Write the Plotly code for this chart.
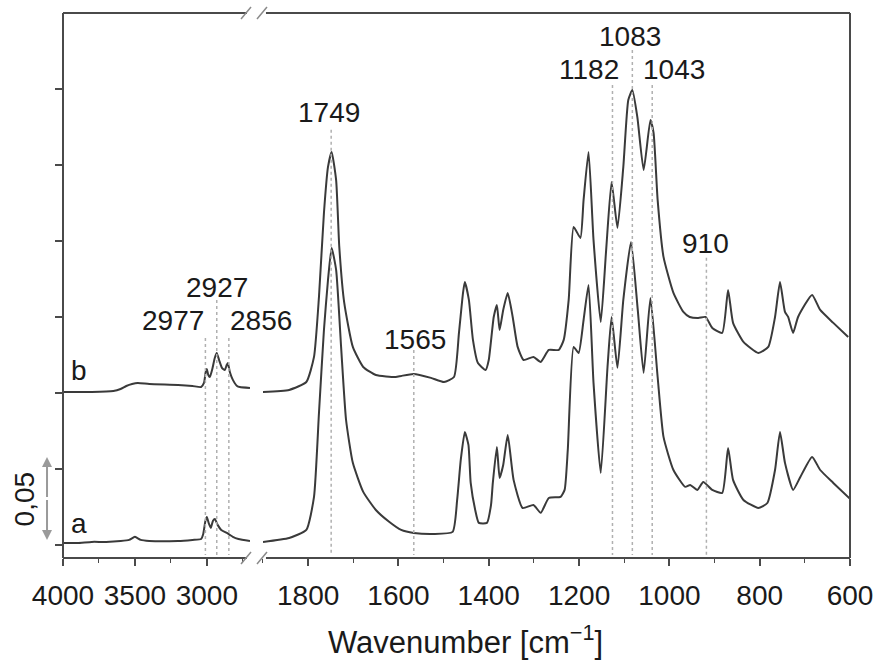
import plotly.graph_objects as go

# ---------------- data (wavenumber in cm-1, absorbance) ----------------
# high-wavenumber panel (4000-2700)
wn_hi_a = [4000, 3900, 3800, 3700, 3600, 3540, 3500, 3460, 3400, 3200, 3100, 3040, 3025, 3010,
           3000, 2985, 2972, 2958, 2944, 2925, 2900, 2861, 2840, 2819, 2780, 2700]
abs_hi_a = [.0013, .0013, .0020, .0020, .0026, .0033, .0053, .0033, .0026, .0026, .0033, .0039, .0072, .0158,
            .0184, .0138, .0112, .0158, .0171, .0132, .0099, .0079, .0066, .0053, .0039, .0026]

wn_hi_b = [4000, 3800, 3650, 3600, 3560, 3520, 3480, 3400, 3200, 3100, 3040, 3020, 3008, 3000, 2990,
           2979, 2960, 2945, 2931, 2915, 2895, 2875, 2862, 2854, 2840, 2819, 2790, 2771, 2700]
abs_hi_b = [.1007, .1007, .1013, .1026, .1046, .1059, .1066, .1059, .1053, .1046, .1039, .1066, .1138, .1158, .1118,
            .1105, .1165, .1230, .1263, .1217, .1165, .1151, .1184, .1197, .1138, .1086, .1046, .1039, .1033]

# fingerprint panel (1900-600)
wn_lo_a = [1900, 1842, 1804, 1787, 1776, 1765, 1756, 1748, 1738, 1727, 1716, 1701, 1678, 1650, 1620,
           1594, 1566, 1522, 1480, 1470, 1462, 1453, 1445, 1440, 1430, 1422, 1404, 1395, 1391, 1382,
           1376, 1368, 1358, 1345, 1325, 1301, 1285, 1267, 1241, 1232, 1225, 1212, 1201, 1190, 1179,
           1168, 1152, 1137, 1128, 1115, 1102, 1085, 1070, 1057, 1042, 1026, 1013, 991, 965, 954,
           938, 925, 905, 883, 870, 859, 836, 803, 783, 766, 755, 744, 726, 710, 684, 666, 637, 600]
abs_lo_a = [.0020, .0046, .0099, .0316, .0868, .1414, .1744, .1954, .1810, .1303, .0822, .0540, .0349, .0230, .0151,
            .0099, .0079, .0072, .0086, .0296, .0559, .0743, .0658, .0408, .0230, .0145, .0145, .0263, .0408, .0645,
            .0441, .0526, .0724, .0428, .0243, .0263, .0211, .0309, .0316, .0362, .0625, .1303, .1263, .1480, .1711,
            .1066, .0474, .1171, .1500, .1165, .1612, .1993, .1546, .1132, .1625, .1105, .0711, .0493, .0382, .0395,
            .0362, .0414, .0362, .0342, .0638, .0428, .0296, .0243, .0276, .0493, .0743, .0540, .0362, .0447, .0579,
            .0493, .0408, .0303]

wn_lo_b = [1900, 1842, 1804, 1787, 1776, 1765, 1756, 1748, 1738, 1731, 1720, 1701, 1678, 1650, 1606,
           1594, 1566, 1528, 1499, 1477, 1466, 1457, 1453, 1444, 1435, 1424, 1407, 1400, 1389, 1382,
           1376, 1368, 1358, 1347, 1336, 1323, 1301, 1285, 1267, 1245, 1234, 1223, 1212, 1197, 1190,
           1179, 1168, 1152, 1140, 1128, 1115, 1102, 1091, 1082, 1071, 1057, 1042, 1035, 1026, 1013,
           991, 969, 955, 936, 920, 905, 883, 870, 859, 836, 803, 781, 766, 755, 744, 737, 726, 715,
           684, 666, 637, 604]
abs_lo_b = [.1007, .1020, .1072, .1237, .1632, .2184, .2487, .2586, .2401, .1961, .1592, .1303, .1171, .1118, .1105,
            .1112, .1125, .1099, .1072, .1105, .1395, .1658, .1730, .1612, .1349, .1197, .1151, .1217, .1500, .1579,
            .1414, .1546, .1658, .1500, .1303, .1217, .1237, .1204, .1283, .1283, .1349, .1612, .2092, .2020, .2270,
            .2586, .2007, .1467, .1941, .2388, .2086, .2487, .2928, .2993, .2816, .2467, .2796, .2711, .2270, .1895,
            .1658, .1533, .1500, .1493, .1500, .1428, .1395, .1678, .1461, .1336, .1263, .1303, .1500, .1730, .1533,
            .1500, .1395, .1500, .1645, .1546, .1461, .1368]

# band annotations
hi_labels = ["2977", "2927", "2856"]
hi_marks = [3010, 2931, 2847]
hi_label_y = [0.1474, 0.1691, 0.1474]
hi_line_top = [0.1362, 0.1612, 0.1362]
hi_shift = [-32, 0, 32]

lo_labels = ["1749", "1565", "1182", "1083", "1043", "910"]
lo_marks = [1749, 1566, 1126, 1082, 1038, 918]
lo_label_y = [0.2843, 0.1355, 0.3126, 0.3343, 0.3126, 0.1981]
lo_line_top = [0.2731, 0.1283, 0.3027, 0.3257, 0.3027, 0.1889]
lo_shift = [-2, 1, -23, -2, 22, -1]

hi_ticks = [4000, 3500, 3000]
lo_ticks = [1800, 1600, 1400, 1200, 1000, 800, 600]
y_ticks = [0, 0.05, 0.10, 0.15, 0.20, 0.25, 0.30]

# ---------------- figure ----------------
FONT = "Liberation Sans, Arial, sans-serif"
CURVE = "#3a3a3a"
DOT = "#b0b0b0"
TXT = "#1a1a1a"
fig = go.Figure()

line_style = dict(color=CURVE, width=2, shape="spline", smoothing=0.5)
fig.add_trace(go.Scatter(x=wn_hi_a, y=abs_hi_a, mode="lines", line=line_style, xaxis="x", yaxis="y"))
fig.add_trace(go.Scatter(x=wn_hi_b, y=abs_hi_b, mode="lines", line=line_style, xaxis="x", yaxis="y"))
fig.add_trace(go.Scatter(x=wn_lo_a, y=abs_lo_a, mode="lines", line=line_style, xaxis="x2", yaxis="y"))
fig.add_trace(go.Scatter(x=wn_lo_b, y=abs_lo_b, mode="lines", line=line_style, xaxis="x2", yaxis="y"))

Y_BOTTOM = -0.0066
annotations = []
for lab, w, ly, top, sh in zip(hi_labels, hi_marks, hi_label_y, hi_line_top, hi_shift):
    fig.add_trace(go.Scatter(x=[w, w], y=[top, Y_BOTTOM], mode="lines",
                             line=dict(color=DOT, width=1.5, dash="dot"), xaxis="x", yaxis="y"))
    annotations.append(dict(x=w, y=ly, xref="x", yref="y", text=lab, showarrow=False, xshift=sh,
                            xanchor="center", yanchor="middle",
                            font=dict(family=FONT, size=28, color=TXT)))
for lab, w, ly, top, sh in zip(lo_labels, lo_marks, lo_label_y, lo_line_top, lo_shift):
    fig.add_trace(go.Scatter(x=[w, w], y=[top, Y_BOTTOM], mode="lines",
                             line=dict(color=DOT, width=1.5, dash="dot"), xaxis="x2", yaxis="y"))
    annotations.append(dict(x=w, y=ly, xref="x2", yref="y", text=lab, showarrow=False, xshift=sh,
                            xanchor="center", yanchor="middle",
                            font=dict(family=FONT, size=28, color=TXT)))

# curve labels
annotations.append(dict(x=3889, y=0.1145, xref="x", yref="y", text="b", showarrow=False,
                        xanchor="center", yanchor="middle", font=dict(family=FONT, size=28, color=TXT)))
annotations.append(dict(x=3889, y=0.0138, xref="x", yref="y", text="a", showarrow=False,
                        xanchor="center", yanchor="middle", font=dict(family=FONT, size=28, color=TXT)))
# scale bar
annotations.append(dict(x=-0.0496, y=0.0306, xref="paper", yref="y", text="0,05", textangle=-90,
                        xanchor="center", yanchor="middle",
                        showarrow=False, font=dict(family=FONT, size=28, color=TXT)))
annotations.append(dict(x=-0.0203, y=0.0579, xref="paper", yref="y", ax=0, ay=0.0306,
                        axref="pixel", ayref="y", text="", showarrow=True, arrowhead=2, arrowsize=1,
                        arrowwidth=2, arrowcolor="#9a9a9a"))
annotations.append(dict(x=-0.0203, y=0.0033, xref="paper", yref="y", ax=0, ay=0.0306,
                        axref="pixel", ayref="y", text="", showarrow=True, arrowhead=2, arrowsize=1,
                        arrowwidth=2, arrowcolor="#9a9a9a"))
# axis title
annotations.append(dict(x=0.512, y=-0.150, xref="paper", yref="paper", text="Wavenumber [cm<sup>\u22121</sup>]",
                        xanchor="center", yanchor="middle",
                        showarrow=False, font=dict(family=FONT, size=31, color=TXT)))

# frame with axis-break marks
FR = "#4a4a4a"
shapes = []
g0, g1 = 0.2338, 0.2579
for yy in (0, 1):
    shapes.append(dict(type="line", xref="paper", yref="paper", x0=0, x1=g0, y0=yy, y1=yy,
                       line=dict(color=FR, width=2)))
    shapes.append(dict(type="line", xref="paper", yref="paper", x0=g1, x1=1, y0=yy, y1=yy,
                       line=dict(color=FR, width=2)))
    for xa, xb in ((0.2262, 0.2389), (0.2465, 0.2592)):
        shapes.append(dict(type="line", xref="paper", yref="paper", x0=xa, x1=xb,
                           y0=yy - 0.011, y1=yy + 0.011, line=dict(color="#8a8a8a", width=1.5)))
shapes.append(dict(type="line", xref="paper", yref="paper", x0=0, x1=0, y0=0, y1=1, line=dict(color=FR, width=2)))
shapes.append(dict(type="line", xref="paper", yref="paper", x0=1, x1=1, y0=0, y1=1, line=dict(color=FR, width=2)))

axis_common = dict(showgrid=False, zeroline=False, showline=False, ticks="outside", ticklen=7,
                   tickwidth=1.5, tickcolor=FR, tickfont=dict(family=FONT, size=28, color=TXT),
                   ticklabelstandoff=5, ticklabeloverflow="allow", automargin=False, anchor="y")

fig.update_layout(
    width=873, height=671,
    margin=dict(l=63, r=23, t=13, b=113, autoexpand=False),
    paper_bgcolor="white", plot_bgcolor="white",
    showlegend=False,
    xaxis=dict(domain=[0, 0.2376], range=[4000, 2700], tickvals=hi_ticks,
               minor=dict(ticks="outside", ticklen=4, tickwidth=1.2, tickcolor=FR, dtick=250, tick0=0),
               **axis_common),
    xaxis2=dict(domain=[0.2541, 1], range=[1900, 600], tickvals=lo_ticks,
                minor=dict(ticks="outside", ticklen=4, tickwidth=1.2, tickcolor=FR, dtick=100, tick0=0),
                **axis_common),
    yaxis=dict(domain=[0, 1], range=[-0.0086, 0.35], tickvals=y_ticks, showticklabels=False,
               showgrid=False, zeroline=False, showline=False, ticks="outside", ticklen=7,
               tickwidth=1.5, tickcolor=FR, automargin=False, anchor="x"),
    annotations=annotations,
    shapes=shapes,
)

fig.write_html("out.html")
